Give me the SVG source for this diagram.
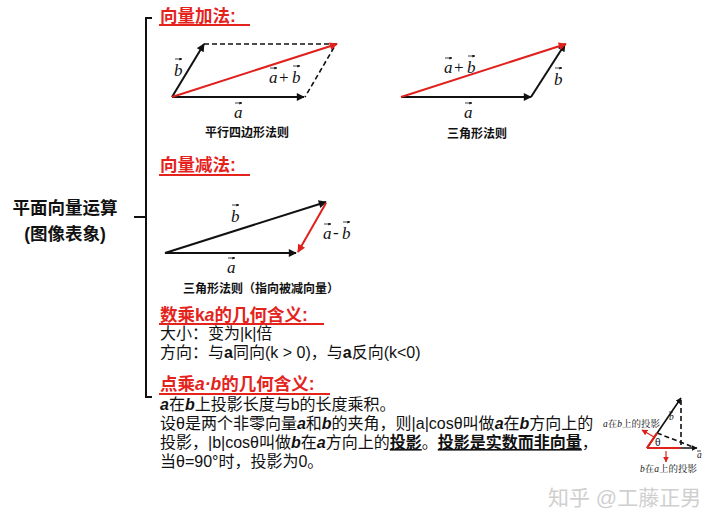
<svg xmlns="http://www.w3.org/2000/svg" width="720" height="528" viewBox="0 0 720 528">
<defs>
<style>
.cjk{font-family:"Liberation Sans","Noto Sans CJK SC",sans-serif}
.hd{font-family:"Liberation Sans","Noto Sans CJK SC",sans-serif;font-size:17.5px;font-weight:bold;fill:#E5231D}
.body{font-family:"Liberation Sans","Noto Sans CJK SC",sans-serif;font-size:16px;fill:#111}
.cap{font-family:"Liberation Sans","Noto Sans CJK SC",sans-serif;font-size:12px;font-weight:bold;fill:#111;text-anchor:middle}
.vl{font-family:"Liberation Serif",serif;font-style:italic;font-size:17px;fill:#111}
.vs{font-family:"Liberation Serif",serif;font-size:17px;fill:#111}
.bl{stroke:#111;stroke-width:2;fill:none}
.rd{stroke:#E0201B;stroke-width:2;fill:none}
.ds{stroke:#111;stroke-width:1.6;fill:none;stroke-dasharray:5 3}
.vb{stroke:#111;stroke-width:0.8;fill:none}
.ul{stroke:#E5231D;stroke-width:1.8}
.sm{font-family:"Liberation Serif","Noto Serif CJK SC","Noto Sans CJK SC",serif;font-size:9.5px;fill:#111}
</style>
<marker id="ab" viewBox="0 0 10 10" refX="9" refY="5" markerWidth="9" markerHeight="8" orient="auto" markerUnits="userSpaceOnUse"><path d="M0,0 L10,5 L0,10 z" fill="#111"/></marker>
<marker id="ar" viewBox="0 0 10 10" refX="9" refY="5" markerWidth="10" markerHeight="8" orient="auto" markerUnits="userSpaceOnUse"><path d="M0,0 L10,5 L0,10 z" fill="#E0201B"/></marker>
<marker id="at" viewBox="0 0 10 10" refX="9" refY="5" markerWidth="3" markerHeight="3" orient="auto" markerUnits="userSpaceOnUse"><path d="M0,0 L10,5 L0,10 z" fill="#111"/></marker>
<marker id="as" viewBox="0 0 10 10" refX="9" refY="5" markerWidth="6" markerHeight="6" orient="auto" markerUnits="userSpaceOnUse"><path d="M0,0 L10,5 L0,10 z" fill="#111"/></marker>
<marker id="asr" viewBox="0 0 10 10" refX="9" refY="5" markerWidth="6" markerHeight="6" orient="auto" markerUnits="userSpaceOnUse"><path d="M0,0 L10,5 L0,10 z" fill="#E0201B"/></marker>
</defs>
<rect width="720" height="528" fill="#fff"/>

<g id="root">
<text class="cjk" x="65" y="214" font-size="17.5" font-weight="bold" text-anchor="middle" fill="#111">平面向量运算</text>
<text class="cjk" x="65" y="240" font-size="17.5" font-weight="bold" text-anchor="middle" fill="#111">(图像表象)</text>
</g>

<g id="connectors">
<path d="M152,18 H146 V397 H152" class="bl" stroke-width="1.5"/>
<path d="M134,217 H146" class="bl" stroke-width="1.5"/>
</g>

<g id="add">
<text class="hd" x="160" y="22">向量加法:</text>
<line class="ul" x1="159" y1="25" x2="250" y2="25"/>
<path class="ds" d="M204,44 H336 L305,97"/>
<line class="bl" x1="172" y1="97" x2="304" y2="97" marker-end="url(#ab)"/>
<line class="bl" x1="172" y1="97" x2="204" y2="44" marker-end="url(#ab)"/>
<line class="rd" x1="172" y1="97" x2="337" y2="44" marker-end="url(#ar)"/>
<text class="vl" x="174" y="76">b</text><path class="vb" d="M175,59 h7" marker-end="url(#at)"/>
<text class="vl" x="269" y="83">a</text><path class="vb" d="M270,68 h7" marker-end="url(#at)"/>
<text class="vs" x="279" y="83">+</text>
<text class="vl" x="292" y="83">b</text><path class="vb" d="M293,66 h7" marker-end="url(#at)"/>
<text class="vl" x="234" y="118">a</text><path class="vb" d="M235,103 h7" marker-end="url(#at)"/>
<text class="cap" x="247" y="137">平行四边形法则</text>
<line class="bl" x1="401" y1="97" x2="531" y2="97" marker-end="url(#ab)"/>
<line class="bl" x1="531" y1="97" x2="565" y2="44" marker-end="url(#ab)"/>
<line class="rd" x1="401" y1="97" x2="566" y2="44" marker-end="url(#ar)"/>
<text class="vl" x="444" y="73">a</text><path class="vb" d="M445,58 h7" marker-end="url(#at)"/>
<text class="vs" x="454" y="73">+</text>
<text class="vl" x="467" y="73">b</text><path class="vb" d="M468,56 h7" marker-end="url(#at)"/>
<text class="vl" x="554" y="85">b</text><path class="vb" d="M555,68 h7" marker-end="url(#at)"/>
<text class="vl" x="464" y="118">a</text><path class="vb" d="M465,103 h7" marker-end="url(#at)"/>
<text class="cap" x="477" y="138">三角形法则</text>
</g>

<g id="sub">
<text class="hd" x="160" y="171">向量减法:</text>
<line class="ul" x1="159" y1="175" x2="250" y2="175"/>
<line class="bl" x1="165" y1="253" x2="296" y2="253" marker-end="url(#ab)"/>
<line class="bl" x1="165" y1="253" x2="326" y2="202" marker-end="url(#ab)"/>
<line class="rd" x1="326" y1="203" x2="298" y2="252" marker-end="url(#ar)"/>
<text class="vl" x="231" y="222">b</text><path class="vb" d="M232,205 h7" marker-end="url(#at)"/>
<text class="vl" x="323" y="239">a</text><path class="vb" d="M324,224 h7" marker-end="url(#at)"/>
<text class="vs" x="333" y="238">-</text>
<text class="vl" x="342" y="239">b</text><path class="vb" d="M343,222 h7" marker-end="url(#at)"/>
<text class="vl" x="227" y="273">a</text><path class="vb" d="M228,258 h7" marker-end="url(#at)"/>
<text class="cap" x="261" y="293">三角形法则（指向被减向量）</text>
</g>

<g id="scalar">
<text class="hd" x="160" y="321">数乘k<tspan font-style="italic">a</tspan>的几何含义:</text>
<line class="ul" x1="159" y1="324" x2="324" y2="324"/>
<text class="body" x="160" y="339">大小：变为|k|倍</text>
<text class="body" x="160" y="358">方向：与<tspan font-weight="bold">a</tspan>同向(k &gt; 0)，与<tspan font-weight="bold">a</tspan>反向(k&lt;0)</text>
</g>

<g id="dot">
<text class="hd" x="160" y="390">点乘<tspan font-style="italic">a·b</tspan>的几何含义:</text>
<line class="ul" x1="159" y1="394" x2="330" y2="394"/>
<text class="body" x="160" y="410"><tspan font-weight="bold" font-style="italic">a</tspan>在<tspan font-weight="bold" font-style="italic">b</tspan>上投影长度与b的长度乘积。</text>
<text class="body" x="160" y="429">设θ是两个非零向量<tspan font-weight="bold" font-style="italic">a</tspan>和<tspan font-weight="bold" font-style="italic">b</tspan>的夹角，则|a|cosθ叫做<tspan font-weight="bold" font-style="italic">a</tspan>在<tspan font-weight="bold" font-style="italic">b</tspan>方向上的</text>
<text class="body" x="160" y="448">投影，|b|cosθ叫做<tspan font-weight="bold" font-style="italic">b</tspan>在<tspan font-weight="bold" font-style="italic">a</tspan>方向上的<tspan font-weight="bold" text-decoration="underline">投影</tspan>。<tspan font-weight="bold" text-decoration="underline">投影是实数而非向量</tspan>，</text>
<text class="body" x="160" y="467">当θ=90°时，投影为0。</text>
</g>

<g id="projection">
<line x1="681" y1="400" x2="681" y2="448" class="ds" stroke-width="1.3" stroke-dasharray="4 2"/>
<line x1="657" y1="433" x2="693" y2="447" class="ds" stroke-width="1.3" stroke-dasharray="4 2"/>
<line x1="647" y1="448" x2="697" y2="448" stroke="#111" stroke-width="1.6" marker-end="url(#as)"/>
<line x1="647" y1="448" x2="681" y2="398" stroke="#111" stroke-width="1.6" marker-end="url(#as)"/>
<line x1="647" y1="448" x2="681" y2="448" stroke="#E0201B" stroke-width="2.2"/>
<line x1="647" y1="448" x2="657" y2="433" stroke="#E0201B" stroke-width="2.2"/>
<line x1="654" y1="437" x2="642" y2="430" stroke="#E0201B" stroke-width="1.2" marker-end="url(#asr)"/>
<line x1="666" y1="451" x2="666" y2="462" stroke="#E0201B" stroke-width="1.2" marker-end="url(#asr)"/>
<text x="655" y="446" font-family="Liberation Sans,sans-serif" font-size="10" fill="#111">θ</text>
<text class="sm" x="669" y="420" font-style="italic">b</text><path class="vb" d="M669,412 h4" stroke-width="0.6"/>
<text class="sm" x="697" y="458" font-style="italic">a</text><path class="vb" d="M697,451 h4" stroke-width="0.6"/>
<text class="sm" x="603" y="427"><tspan font-style="italic">a</tspan>在<tspan font-style="italic">b</tspan>上的投影</text>
<text class="sm" x="640" y="472"><tspan font-style="italic">b</tspan>在<tspan font-style="italic">a</tspan>上的投影</text>
</g>

<text x="548" y="505" font-family="Liberation Sans,Noto Sans CJK SC,sans-serif" font-size="21" fill="#cfcfcf">知乎 @工藤正男</text>
</svg>
